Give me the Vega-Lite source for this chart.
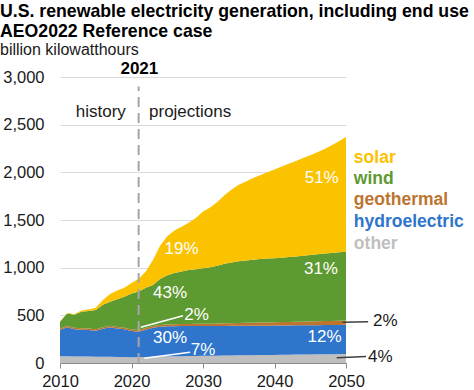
{
  "$schema": "https://vega.github.io/schema/vega-lite/v6.json",
  "width": 286,
  "height": 286,
  "autosize": "none",
  "padding": {"left": 60, "top": 77, "right": 128, "bottom": 27},
  "config": {"font": "Liberation Sans", "view": {"stroke": null}},
  "title": {
    "text": ["U.S. renewable electricity generation, including end use", "AEO2022 Reference case"],
    "subtitle": "billion kilowatthours",
    "anchor": "start",
    "frame": "group",
    "dx": -60,
    "offset": 2,
    "fontSize": 17.7,
    "fontWeight": "bold",
    "color": "#000000",
    "lineHeight": 20,
    "subtitleFontSize": 16,
    "subtitleColor": "#1a1a1a",
    "subtitlePadding": 1
  },
  "layer": [
    {
      "data": {"values": [
        {"year":2010,"source":"other","value":70},{"year":2010,"source":"hydroelectric","value":276},{"year":2010,"source":"geothermal","value":16},{"year":2010,"source":"wind","value":71},{"year":2010,"source":"solar","value":3},
        {"year":2011,"source":"other","value":70},{"year":2011,"source":"hydroelectric","value":304},{"year":2011,"source":"geothermal","value":16},{"year":2011,"source":"wind","value":130},{"year":2011,"source":"solar","value":5},
        {"year":2012,"source":"other","value":68},{"year":2012,"source":"hydroelectric","value":285},{"year":2012,"source":"geothermal","value":16},{"year":2012,"source":"wind","value":136},{"year":2012,"source":"solar","value":10},
        {"year":2013,"source":"other","value":68},{"year":2013,"source":"hydroelectric","value":280},{"year":2013,"source":"geothermal","value":16},{"year":2013,"source":"wind","value":174},{"year":2013,"source":"solar","value":12},
        {"year":2014,"source":"other","value":68},{"year":2014,"source":"hydroelectric","value":278},{"year":2014,"source":"geothermal","value":16},{"year":2014,"source":"wind","value":183},{"year":2014,"source":"solar","value":17},
        {"year":2015,"source":"other","value":66},{"year":2015,"source":"hydroelectric","value":273},{"year":2015,"source":"geothermal","value":16},{"year":2015,"source":"wind","value":201},{"year":2015,"source":"solar","value":24},
        {"year":2016,"source":"other","value":66},{"year":2016,"source":"hydroelectric","value":294},{"year":2016,"source":"geothermal","value":16},{"year":2016,"source":"wind","value":234},{"year":2016,"source":"solar","value":50},
        {"year":2017,"source":"other","value":66},{"year":2017,"source":"hydroelectric","value":308},{"year":2017,"source":"geothermal","value":16},{"year":2017,"source":"wind","value":253},{"year":2017,"source":"solar","value":82},
        {"year":2018,"source":"other","value":64},{"year":2018,"source":"hydroelectric","value":298},{"year":2018,"source":"geothermal","value":16},{"year":2018,"source":"wind","value":292},{"year":2018,"source":"solar","value":90},
        {"year":2019,"source":"other","value":62},{"year":2019,"source":"hydroelectric","value":291},{"year":2019,"source":"geothermal","value":16},{"year":2019,"source":"wind","value":327},{"year":2019,"source":"solar","value":94},
        {"year":2020,"source":"other","value":60},{"year":2020,"source":"hydroelectric","value":275},{"year":2020,"source":"geothermal","value":16},{"year":2020,"source":"wind","value":379},{"year":2020,"source":"solar","value":110},
        {"year":2021,"source":"other","value":62},{"year":2021,"source":"hydroelectric","value":266},{"year":2021,"source":"geothermal","value":17},{"year":2021,"source":"wind","value":405},{"year":2021,"source":"solar","value":135},
        {"year":2022,"source":"other","value":64},{"year":2022,"source":"hydroelectric","value":286},{"year":2022,"source":"geothermal","value":18},{"year":2022,"source":"wind","value":422},{"year":2022,"source":"solar","value":170},
        {"year":2023,"source":"other","value":66},{"year":2023,"source":"hydroelectric","value":304},{"year":2023,"source":"geothermal","value":18},{"year":2023,"source":"wind","value":430},{"year":2023,"source":"solar","value":262},
        {"year":2024,"source":"other","value":68},{"year":2024,"source":"hydroelectric","value":312},{"year":2024,"source":"geothermal","value":18},{"year":2024,"source":"wind","value":482},{"year":2024,"source":"solar","value":350},
        {"year":2025,"source":"other","value":70},{"year":2025,"source":"hydroelectric","value":315},{"year":2025,"source":"geothermal","value":19},{"year":2025,"source":"wind","value":516},{"year":2025,"source":"solar","value":410},
        {"year":2026,"source":"other","value":71},{"year":2026,"source":"hydroelectric","value":315},{"year":2026,"source":"geothermal","value":20},{"year":2026,"source":"wind","value":538},{"year":2026,"source":"solar","value":446},
        {"year":2027,"source":"other","value":72},{"year":2027,"source":"hydroelectric","value":315},{"year":2027,"source":"geothermal","value":21},{"year":2027,"source":"wind","value":552},{"year":2027,"source":"solar","value":470},
        {"year":2028,"source":"other","value":73},{"year":2028,"source":"hydroelectric","value":315},{"year":2028,"source":"geothermal","value":22},{"year":2028,"source":"wind","value":565},{"year":2028,"source":"solar","value":495},
        {"year":2029,"source":"other","value":74},{"year":2029,"source":"hydroelectric","value":314},{"year":2029,"source":"geothermal","value":23},{"year":2029,"source":"wind","value":572},{"year":2029,"source":"solar","value":537},
        {"year":2030,"source":"other","value":75},{"year":2030,"source":"hydroelectric","value":313},{"year":2030,"source":"geothermal","value":24},{"year":2030,"source":"wind","value":583},{"year":2030,"source":"solar","value":595},
        {"year":2031,"source":"other","value":76},{"year":2031,"source":"hydroelectric","value":312},{"year":2031,"source":"geothermal","value":25},{"year":2031,"source":"wind","value":592},{"year":2031,"source":"solar","value":625},
        {"year":2032,"source":"other","value":77},{"year":2032,"source":"hydroelectric","value":312},{"year":2032,"source":"geothermal","value":26},{"year":2032,"source":"wind","value":605},{"year":2032,"source":"solar","value":670},
        {"year":2033,"source":"other","value":78},{"year":2033,"source":"hydroelectric","value":311},{"year":2033,"source":"geothermal","value":27},{"year":2033,"source":"wind","value":624},{"year":2033,"source":"solar","value":720},
        {"year":2034,"source":"other","value":79},{"year":2034,"source":"hydroelectric","value":311},{"year":2034,"source":"geothermal","value":28},{"year":2034,"source":"wind","value":637},{"year":2034,"source":"solar","value":765},
        {"year":2035,"source":"other","value":80},{"year":2035,"source":"hydroelectric","value":310},{"year":2035,"source":"geothermal","value":29},{"year":2035,"source":"wind","value":649},{"year":2035,"source":"solar","value":802},
        {"year":2036,"source":"other","value":81},{"year":2036,"source":"hydroelectric","value":310},{"year":2036,"source":"geothermal","value":30},{"year":2036,"source":"wind","value":654},{"year":2036,"source":"solar","value":830},
        {"year":2037,"source":"other","value":82},{"year":2037,"source":"hydroelectric","value":309},{"year":2037,"source":"geothermal","value":31},{"year":2037,"source":"wind","value":661},{"year":2037,"source":"solar","value":857},
        {"year":2038,"source":"other","value":83},{"year":2038,"source":"hydroelectric","value":309},{"year":2038,"source":"geothermal","value":32},{"year":2038,"source":"wind","value":666},{"year":2038,"source":"solar","value":880},
        {"year":2039,"source":"other","value":84},{"year":2039,"source":"hydroelectric","value":308},{"year":2039,"source":"geothermal","value":33},{"year":2039,"source":"wind","value":670},{"year":2039,"source":"solar","value":905},
        {"year":2040,"source":"other","value":85},{"year":2040,"source":"hydroelectric","value":308},{"year":2040,"source":"geothermal","value":34},{"year":2040,"source":"wind","value":671},{"year":2040,"source":"solar","value":932},
        {"year":2041,"source":"other","value":86},{"year":2041,"source":"hydroelectric","value":308},{"year":2041,"source":"geothermal","value":35},{"year":2041,"source":"wind","value":676},{"year":2041,"source":"solar","value":955},
        {"year":2042,"source":"other","value":87},{"year":2042,"source":"hydroelectric","value":307},{"year":2042,"source":"geothermal","value":36},{"year":2042,"source":"wind","value":682},{"year":2042,"source":"solar","value":978},
        {"year":2043,"source":"other","value":88},{"year":2043,"source":"hydroelectric","value":307},{"year":2043,"source":"geothermal","value":37},{"year":2043,"source":"wind","value":686},{"year":2043,"source":"solar","value":1002},
        {"year":2044,"source":"other","value":89},{"year":2044,"source":"hydroelectric","value":307},{"year":2044,"source":"geothermal","value":38},{"year":2044,"source":"wind","value":691},{"year":2044,"source":"solar","value":1025},
        {"year":2045,"source":"other","value":90},{"year":2045,"source":"hydroelectric","value":306},{"year":2045,"source":"geothermal","value":40},{"year":2045,"source":"wind","value":696},{"year":2045,"source":"solar","value":1048},
        {"year":2046,"source":"other","value":91},{"year":2046,"source":"hydroelectric","value":306},{"year":2046,"source":"geothermal","value":41},{"year":2046,"source":"wind","value":702},{"year":2046,"source":"solar","value":1070},
        {"year":2047,"source":"other","value":92},{"year":2047,"source":"hydroelectric","value":306},{"year":2047,"source":"geothermal","value":42},{"year":2047,"source":"wind","value":708},{"year":2047,"source":"solar","value":1097},
        {"year":2048,"source":"other","value":93},{"year":2048,"source":"hydroelectric","value":305},{"year":2048,"source":"geothermal","value":43},{"year":2048,"source":"wind","value":714},{"year":2048,"source":"solar","value":1130},
        {"year":2049,"source":"other","value":94},{"year":2049,"source":"hydroelectric","value":305},{"year":2049,"source":"geothermal","value":44},{"year":2049,"source":"wind","value":719},{"year":2049,"source":"solar","value":1163},
        {"year":2050,"source":"other","value":95},{"year":2050,"source":"hydroelectric","value":305},{"year":2050,"source":"geothermal","value":45},{"year":2050,"source":"wind","value":723},{"year":2050,"source":"solar","value":1203}
      ]},
      "transform": [
        {"lookup": "source", "from": {"data": {"values": [
          {"source": "other", "rank": 1},
          {"source": "hydroelectric", "rank": 2},
          {"source": "geothermal", "rank": 3},
          {"source": "wind", "rank": 4},
          {"source": "solar", "rank": 5}
        ]}, "key": "source", "fields": ["rank"]}}
      ],
      "mark": {"type": "area", "interpolate": "linear"},
      "encoding": {
        "x": {"field": "year", "type": "quantitative", "scale": {"domain": [2010, 2050], "nice": false, "zero": false},
          "axis": {"values": [2010, 2020, 2030, 2040, 2050], "format": "d", "title": null, "grid": false, "labelFontSize": 16.5, "labelColor": "#1a1a1a", "tickColor": "#8c8c8c", "domainColor": "#8c8c8c", "tickSize": 5, "labelPadding": 5, "labelFlush": false}},
        "y": {"field": "value", "type": "quantitative", "stack": "zero", "scale": {"domain": [0, 3000], "nice": false},
          "axis": {"values": [0, 500, 1000, 1500, 2000, 2500, 3000], "format": ",.0f", "title": null, "domain": false, "ticks": false, "grid": true, "gridColor": "#d9d9d9", "labelFontSize": 16.5, "labelColor": "#1a1a1a", "labelPadding": 16}},
        "color": {"field": "source", "type": "nominal",
          "scale": {"domain": ["other", "hydroelectric", "geothermal", "wind", "solar"], "range": ["#bfbfbf", "#2e75cb", "#bd742f", "#5e9a32", "#fbc200"]}, "legend": null},
        "order": {"field": "rank", "type": "quantitative", "sort": "ascending"}
      }
    },
    {
      "data": {"values": [{"year": 2021, "lo": 0, "hi": 2900}]},
      "mark": {"type": "rule", "color": "#a6a6a6", "strokeWidth": 2, "strokeDash": [10, 6]},
      "encoding": {
        "x": {"field": "year", "type": "quantitative"},
        "y": {"field": "lo", "type": "quantitative"},
        "y2": {"field": "hi"}
      }
    },
    {
      "data": {"values": [
        {"x1": 2021.3, "y1": 374, "x2": 2027.2, "y2": 496},
        {"x1": 2021.8, "y1": 49, "x2": 2028.2, "y2": 112}
      ]},
      "mark": {"type": "rule", "color": "#ffffff", "strokeWidth": 1.5},
      "encoding": {
        "x": {"field": "x1", "type": "quantitative"},
        "y": {"field": "y1", "type": "quantitative"},
        "x2": {"field": "x2"},
        "y2": {"field": "y2"}
      }
    },
    {
      "data": {"values": [
        {"x1": 2049.5, "y1": 427, "x2": 2053.1, "y2": 433},
        {"x1": 2048.7, "y1": 56, "x2": 2052.8, "y2": 67}
      ]},
      "mark": {"type": "rule", "color": "#404040", "strokeWidth": 1.5},
      "encoding": {
        "x": {"field": "x1", "type": "quantitative"},
        "y": {"field": "y1", "type": "quantitative"},
        "x2": {"field": "x2"},
        "y2": {"field": "y2"}
      }
    },
    {
      "data": {"values": [
        {"label": "51%", "year": 2046.6, "value": 1941},
        {"label": "31%", "year": 2046.5, "value": 986},
        {"label": "12%", "year": 2047.0, "value": 273},
        {"label": "19%", "year": 2027.0, "value": 1196},
        {"label": "43%", "year": 2025.4, "value": 734},
        {"label": "30%", "year": 2025.4, "value": 262},
        {"label": "2%", "year": 2029.1, "value": 503},
        {"label": "7%", "year": 2030.0, "value": 136}
      ]},
      "mark": {"type": "text", "color": "#ffffff", "fontSize": 17, "align": "center", "baseline": "middle"},
      "encoding": {
        "x": {"field": "year", "type": "quantitative"},
        "y": {"field": "value", "type": "quantitative"},
        "text": {"field": "label"}
      }
    },
    {
      "data": {"values": [
        {"label": "2%", "year": 2055.5, "value": 440},
        {"label": "4%", "year": 2054.8, "value": 63}
      ]},
      "mark": {"type": "text", "color": "#1a1a1a", "fontSize": 17, "align": "center", "baseline": "middle"},
      "encoding": {
        "x": {"field": "year", "type": "quantitative"},
        "y": {"field": "value", "type": "quantitative"},
        "text": {"field": "label"}
      }
    },
    {
      "data": {"values": [
        {"source": "solar", "year": 2051.1, "value": 2150},
        {"source": "wind", "year": 2051.1, "value": 1930},
        {"source": "geothermal", "year": 2051.1, "value": 1710},
        {"source": "hydroelectric", "year": 2051.1, "value": 1479},
        {"source": "other", "year": 2051.1, "value": 1248}
      ]},
      "mark": {"type": "text", "fontSize": 17.5, "fontWeight": "bold", "align": "left", "baseline": "middle"},
      "encoding": {
        "x": {"field": "year", "type": "quantitative"},
        "y": {"field": "value", "type": "quantitative"},
        "text": {"field": "source"},
        "color": {"field": "source", "type": "nominal",
          "scale": {"domain": ["other", "hydroelectric", "geothermal", "wind", "solar"], "range": ["#bfbfbf", "#2e75cb", "#bd742f", "#5e9a32", "#fbc200"]}, "legend": null}
      }
    },
    {
      "data": {"values": [
        {"label": "history", "year": 2015.7, "value": 2633},
        {"label": "projections", "year": 2028.2, "value": 2633}
      ]},
      "mark": {"type": "text", "color": "#1a1a1a", "fontSize": 17, "align": "center", "baseline": "middle"},
      "encoding": {
        "x": {"field": "year", "type": "quantitative"},
        "y": {"field": "value", "type": "quantitative"},
        "text": {"field": "label"}
      }
    },
    {
      "data": {"values": [{"label": "2021", "year": 2021.1, "value": 3085}]},
      "mark": {"type": "text", "color": "#000000", "fontSize": 17, "fontWeight": "bold", "align": "center", "baseline": "middle"},
      "encoding": {
        "x": {"field": "year", "type": "quantitative"},
        "y": {"field": "value", "type": "quantitative"},
        "text": {"field": "label"}
      }
    }
  ]
}
